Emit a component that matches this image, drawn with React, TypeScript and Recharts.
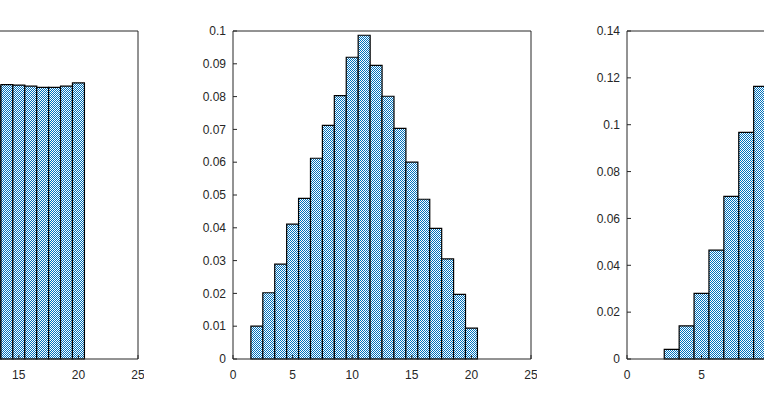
import React from "react";
import { BarChart, Bar, XAxis, YAxis } from "recharts";

// left panel: uniform over 1..20 (only 14..20 visible)
const uniformX = [1, 2, 3, 4, 5, 6, 7, 8, 9, 10, 11, 12, 13, 14, 15, 16, 17, 18, 19, 20];
const uniformP = [
  0.0501, 0.0499, 0.0502, 0.0498, 0.05, 0.0501, 0.0499, 0.05, 0.0502, 0.0498, 0.05, 0.0501, 0.0499,
  0.0502, 0.0501, 0.0499, 0.0497, 0.0497, 0.0499, 0.0505,
];

// middle panel: triangular 2..20
const triX = [2, 3, 4, 5, 6, 7, 8, 9, 10, 11, 12, 13, 14, 15, 16, 17, 18, 19, 20];
const triP = [
  0.01, 0.0202, 0.0289, 0.0411, 0.049, 0.0612, 0.0712, 0.0803, 0.092, 0.0987, 0.0895, 0.0801, 0.0703,
  0.06, 0.0487, 0.0398, 0.0305, 0.0197, 0.0094,
];

// right panel: visible part only
const rightX = [3, 4, 5, 6, 7, 8, 9];
const rightP = [0.0041, 0.0141, 0.028, 0.0465, 0.0694, 0.0967, 0.1164];

const leftYTicks = [0, 0.01, 0.02, 0.03, 0.04, 0.05, 0.06];
const midYTicks = [0, 0.01, 0.02, 0.03, 0.04, 0.05, 0.06, 0.07, 0.08, 0.09, 0.1];
const rightYTicks = [0, 0.02, 0.04, 0.06, 0.08, 0.1, 0.12, 0.14];
const xTicks25 = [0, 5, 10, 15, 20, 25];
const xTicks20 = [0, 5, 10, 15, 20];

const toRows = (xs: number[], ps: number[]) => xs.map((x, i) => ({ x, p: ps[i] }));

const PLOT_W = 298;
const Y_AXIS_W = 45;
const INK = "#262626";
const TEXT = { fill: INK, fontSize: 12, fontFamily: "Liberation Sans, Arial, sans-serif" };

interface PanelProps {
  left: number;
  data: { x: number; p: number }[];
  xMax: number;
  xTicks: number[];
  yTicks: number[];
  id: string;
}

function Panel({ left, data, xMax, xTicks, yTicks, id }: PanelProps) {
  const yMax = yTicks[yTicks.length - 1];
  return (
    <div style={{ position: "absolute", left: left - Y_AXIS_W, top: 0 }}>
      <BarChart
        width={Y_AXIS_W + PLOT_W + 6}
        height={401}
        data={data}
        margin={{ top: 30, right: 5, bottom: 0, left: 0 }}
        barCategoryGap={0}
        barGap={0}
      >
        <defs>
          <pattern id={id} width={2} height={2} patternUnits="userSpaceOnUse">
            <rect x={0} y={0} width={2} height={2} fill="#ffffff" />
            <rect x={0} y={0} width={1} height={1} fill="#0072bd" />
            <rect x={1} y={1} width={1} height={1} fill="#0072bd" />
          </pattern>
        </defs>
        <XAxis
          dataKey="x"
          type="number"
          domain={[0, xMax]}
          ticks={xTicks}
          height={42}
          tickSize={-4}
          tickMargin={15}
          tick={TEXT}
          stroke={INK}
        />
        <XAxis
          xAxisId="top"
          orientation="top"
          type="number"
          domain={[0, xMax]}
          ticks={xTicks}
          height={1}
          tickSize={-4}
          tick={false}
          stroke={INK}
        />
        <YAxis
          type="number"
          domain={[0, yMax]}
          ticks={yTicks}
          width={Y_AXIS_W}
          tickSize={-4}
          tickMargin={11}
          tick={TEXT}
          stroke={INK}
          interval={0}
        />
        <YAxis
          yAxisId="right"
          orientation="right"
          type="number"
          domain={[0, yMax]}
          ticks={yTicks}
          width={1}
          tickSize={-4}
          tick={false}
          stroke={INK}
        />
        <Bar dataKey="p" fill={`url(#${id})`} stroke="#000000" strokeWidth={1.2} isAnimationActive={false} />
      </BarChart>
    </div>
  );
}

export default function App() {
  return (
    <div
      style={{
        position: "fixed",
        left: 0,
        top: 0,
        width: 764,
        height: 401,
        overflow: "hidden",
        background: "#ffffff",
      }}
    >
      <Panel id="patL" left={138 - PLOT_W} data={toRows(uniformX, uniformP)} xMax={25} xTicks={xTicks25} yTicks={leftYTicks} />
      <Panel id="patM" left={233} data={toRows(triX, triP)} xMax={25} xTicks={xTicks25} yTicks={midYTicks} />
      <Panel id="patR" left={627} data={toRows(rightX, rightP)} xMax={20} xTicks={xTicks20} yTicks={rightYTicks} />
    </div>
  );
}
